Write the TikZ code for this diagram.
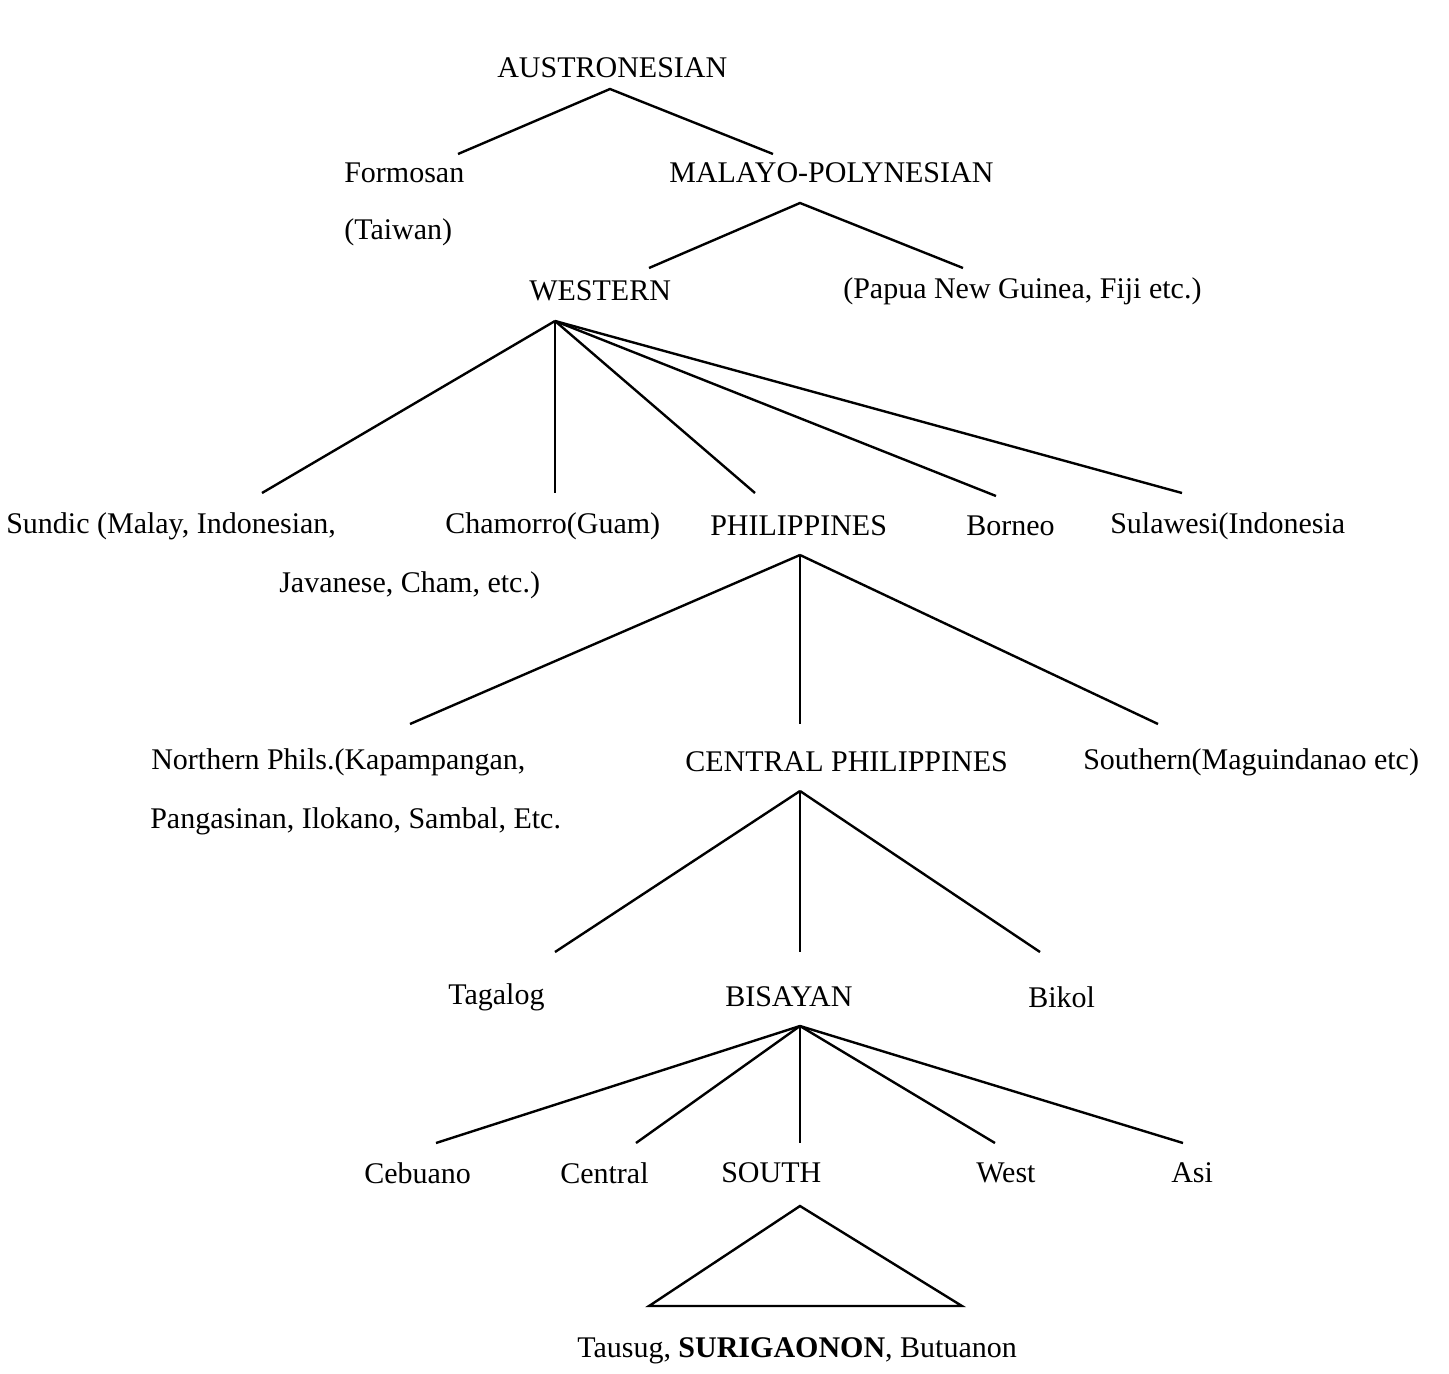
\documentclass[tikz,border=0pt]{standalone}
\usepackage{fontspec}
\setmainfont{Liberation Serif}
\begin{document}
\begin{tikzpicture}[x=0.75pt,y=-0.75pt,
  lbl/.style={anchor=west,inner sep=0pt,font=\fontsize{22.5}{27}\selectfont},
  br/.style={line width=1.8pt}]
\useasboundingbox (0,0) rectangle (1449,1374);
\node[lbl] (aus) at (497,68) {AUSTRONESIAN};
\node[lbl] (for) at (344,173) {Formosan};
\node[lbl] (tai) at (344,232) {(Taiwan)};
\node[lbl] (mp) at (669,173) {MALAYO-POLYNESIAN};
\node[lbl] (wes) at (529,291) {WESTERN};
\node[lbl] (png) at (843,291) {(Papua New Guinea, Fiji etc.)};
\node[lbl] (sun) at (6,526) {Sundic (Malay, Indonesian,};
\node[lbl] (sun2) at (279,585) {Javanese, Cham, etc.)};
\node[lbl] (cha) at (445,526) {Chamorro(Guam)};
\node[lbl] (phi) at (710,526) {PHILIPPINES};
\node[lbl] (bor) at (966,526) {Borneo};
\node[lbl] (sul) at (1110,526) {Sulawesi(Indonesia};
\node[lbl] (nor) at (151,762) {Northern Phils.(Kapampangan,};
\node[lbl] (nor2) at (150,821) {Pangasinan, Ilokano, Sambal, Etc.};
\node[lbl] (cen) at (685,762) {CENTRAL PHILIPPINES};
\node[lbl] (sou) at (1083,762) {Southern(Maguindanao etc)};
\node[lbl] (tag) at (448,997) {Tagalog};
\node[lbl] (bis) at (725,997) {BISAYAN};
\node[lbl] (bik) at (1028,997) {Bikol};
\node[lbl] (ceb) at (364,1173) {Cebuano};
\node[lbl] (cent) at (560,1173) {Central};
\node[lbl] (south) at (721,1173) {SOUTH};
\node[lbl] (west) at (976,1173) {West};
\node[lbl] (asi) at (1171,1173) {Asi};
\node[lbl] (tau) at (577,1351) {Tausug, \textbf{SURIGAONON}, Butuanon};
\coordinate (a0) at (610,89); \coordinate (a1) at (458,154); \coordinate (a2) at (773,154);
\coordinate (m0) at (800,203); \coordinate (m1) at (649,268); \coordinate (m2) at (963,268);
\coordinate (w0) at (555,321); \coordinate (w1) at (262,493); \coordinate (w2) at (555,493);
\coordinate (w3) at (755,493); \coordinate (w4) at (996,496); \coordinate (w5) at (1182,493);
\coordinate (p0) at (800,555); \coordinate (p1) at (410,724); \coordinate (p2) at (800,724); \coordinate (p3) at (1158,724);
\coordinate (c0) at (800,791); \coordinate (c1) at (555,952); \coordinate (c2) at (800,952); \coordinate (c3) at (1040,952);
\coordinate (b0) at (800,1026); \coordinate (b1) at (436,1143); \coordinate (b2) at (636,1143);
\coordinate (b3) at (800,1143); \coordinate (b4) at (995,1143); \coordinate (b5) at (1183,1143);
\coordinate (t0) at (800,1206); \coordinate (t1) at (649,1306); \coordinate (t2) at (962,1306);
\draw[br] (a1) -- (a0) -- (a2);
\draw[br] (m1) -- (m0) -- (m2);
\foreach \i in {1,...,5} \draw[br] (w0) -- (w\i);
\foreach \i in {1,2,3} \draw[br] (p0) -- (p\i);
\foreach \i in {1,2,3} \draw[br] (c0) -- (c\i);
\foreach \i in {1,...,5} \draw[br] (b0) -- (b\i);
\draw[br,line join=miter] (t0) -- (t1) -- (t2) -- cycle;
\end{tikzpicture}
\end{document}
